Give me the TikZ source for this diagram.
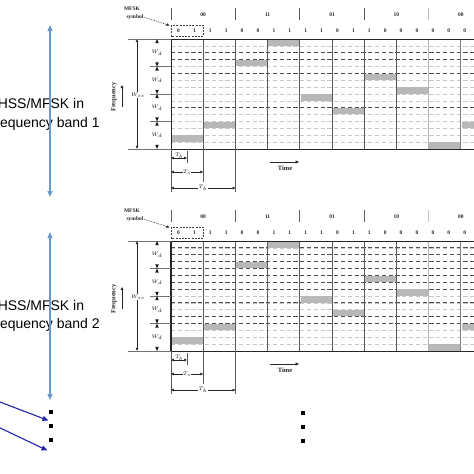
\documentclass[tikz,border=0pt]{standalone}
\usepackage{fontspec}
\setmainfont{Liberation Serif}
\newfontfamily\arialfont{Liberation Sans}
\usetikzlibrary{arrows.meta}
\definecolor{bandblue}{HTML}{6A9AC8}
\definecolor{navyarrow}{HTML}{2424AA}
\definecolor{barfill}{HTML}{B8B8B8}
\definecolor{lightdash}{HTML}{C8C8C8}
\definecolor{darkdash}{HTML}{505050}
\definecolor{gridline}{HTML}{5A5A5A}
\tikzset{
  lbl/.style={font=\fontsize{5.5}{6}\selectfont\bfseries, inner sep=0.3pt, text=black!85},
  midlbl/.style={font=\fontsize{6.5}{7}\selectfont\bfseries, inner sep=0.3pt, text=black!85},
  itl/.style={font=\fontsize{5.5}{6}\selectfont, inner sep=0.3pt, fill=white},
  lightrow/.style={draw=lightdash, line width=0.7pt, dash pattern=on 4.2pt off 2.6pt},
  darkrow/.style={draw=darkdash, line width=0.8pt, dash pattern=on 4.2pt off 2.6pt},
  coltick/.style={draw=gridline, line width=0.8pt},
  thintick/.style={draw=black!55, line width=0.5pt},
  dimline/.style={draw=black!85, line width=0.45pt, {Triangle[length=2.8pt,width=2.6pt]}-{Triangle[length=2.8pt,width=2.6pt]}},
  bigtext/.style={font=\arialfont\fontsize{14}{17}\selectfont, inner sep=0pt, anchor=base west},
  bandarrow/.style={draw=bandblue, line width=1.1pt, {Triangle[length=6pt,width=5pt]}-{Triangle[length=6pt,width=5pt]}},
  feedarrow/.style={draw=navyarrow, line width=1.1pt, -{Triangle[length=6pt,width=5pt]}},
  dotsq/.style={fill=black, minimum size=4pt, inner sep=0pt, draw=none, rectangle},
}

\newcommand\fhchart[4]{%
\begin{scope}[shift={(0,#1)}]
  % rows
  \foreach \k in {1,...,15} \draw[lightrow] (171,{39+\k*6.875}) -- (492,{39+\k*6.875});
  \foreach \k in {#2} \draw[darkrow] (171,{39+\k*6.875}) -- (492,{39+\k*6.875});
  % tones
  \foreach \cc/\rr in {0/14,1/12,2/3,3/0,4/8,5/10,6/5,7/7,8/15,9/12}
    \fill[barfill] ({171.8+\cc*32.2},{39.2+\rr*6.875}) rectangle ({170.6+(\cc+1)*32.2},{38.8+(\rr+1)*6.875});
  % columns
  \foreach \cc in {1,...,7} \draw[coltick] ({171+\cc*32.2},39) -- ({171+\cc*32.2},149);
  \draw[draw=black!30, line width=0.8pt] (428.6,39) -- (428.6,149);
  \draw[draw=black!50, line width=0.8pt] (460.8,39) -- (460.8,149);
  \draw[draw=black!85, line width=0.9pt] (492,39) -- (171,39) (171,149) -- (492,149);
  \draw[draw=black!85, line width=#3] (171,39) -- (171,149);
  % top labels
  \foreach \x/\t [count=\i] in {203.2/00,267.6/11,332/01,396.4/10,460.8/00}
    \node[lbl] (#4dibit\i) at (\x,15) {\t};
  \foreach \x in {171,235.4,299.8,364.2} \draw[coltick, line width=0.7pt] (\x,8) -- (\x,20);
  \draw[draw=black!25, line width=0.7pt] (428.6,8) -- (428.6,20);
  \foreach \b [count=\i from 0] in {0,1,1,1,0,0,1,1,1,1,0,1,1,0,0,0,0,0,0}
    \node[lbl] (#4bit\i) at ({178.5+\i*15.9},31) {\b};
  \draw[draw=black!75, line width=0.6pt, dash pattern=on 2pt off 1.2pt] (171,25) rectangle (203.2,36.5);
  \node[lbl] (#4mfsk) at (132,9) {MFSK};
  \node[lbl] (#4sym) at (135,17) {symbol};
  \coordinate (#4boxc) at (169.5,25.5);
  \draw[draw=black!80, line width=0.5pt, dash pattern=on 1.5pt off 1pt, -{Triangle[length=3pt,width=2.6pt]}] (#4sym.east) -- (#4boxc);
  % left dimensions
  \draw[thintick] (128,39) -- (171,39) (128,149) -- (171,149);
  \coordinate (#4wt) at (137,39.3);
  \coordinate (#4wb) at (137,148.7);
  \draw[dimline] (#4wt) -- (#4wb);
  \node[itl] (#4wss) at (138,95) {$W_{ss}$};
  \node[midlbl, rotate=90] (#4freq) at (114,97) {Frequency};
  \coordinate (#4fa) at (122,107);
  \coordinate (#4fb) at (122,85);
  \draw[black!85, line width=0.6pt, -{Triangle[length=3pt,width=2.8pt]}] (#4fa) -- (#4fb);
  \foreach \yy in {66.5,94,121.5} \draw[thintick] (150,\yy) -- (171,\yy);
  \foreach \bb in {0,...,3} {
    \pgfmathsetmacro\ya{39+\bb*27.5}
    \pgfmathsetmacro\yb{66.5+\bb*27.5}
    \fill[black!90] (157,\ya) -- (155.2,\ya+4.2) -- (158.8,\ya+4.2) -- cycle;
    \fill[black!90] (157,\yb) -- (155.2,\yb-4.2) -- (158.8,\yb-4.2) -- cycle;
    \node[itl] (#4wd\bb) at (157,{\ya+13.75}) {$W_d$};
  }
  % bottom time marks
  \draw[coltick, line width=0.6pt] (171,149) -- (171,192);
  \draw[coltick, line width=0.6pt] (203.2,149) -- (203.2,182);
  \draw[coltick, line width=0.6pt] (235.4,149) -- (235.4,192);
  \draw[coltick, line width=0.6pt] (187,151) -- (187,163);
  \coordinate (#4tba) at (171,158); \coordinate (#4tbb) at (187,158);
  \draw[dimline] (#4tba) -- (#4tbb);
  \node[itl, fill=none] (#4tb) at (179,155.5) {$T_b$};
  \coordinate (#4tsa) at (171,172); \coordinate (#4tsb) at (203.2,172);
  \draw[dimline] (#4tsa) -- (#4tsb);
  \node[itl] (#4ts) at (187,172) {$T_s$};
  \coordinate (#4tha) at (171,188); \coordinate (#4thb) at (235.4,188);
  \draw[dimline] (#4tha) -- (#4thb);
  \node[itl] (#4th) at (203,188) {$T_h$};
  \coordinate (#4ta) at (270,162); \coordinate (#4tz) at (299,162);
  \draw[black!85, line width=0.7pt, -{Triangle[length=3.5pt,width=3pt]}] (#4ta) -- (#4tz);
  \node[midlbl] (#4time) at (285,168) {Time};
\end{scope}}

\begin{document}
\begin{tikzpicture}[x=1pt,y=-1pt]
\useasboundingbox (0,0) rectangle (474,474);
\clip (0,0) rectangle (474,474);
\fill[white] (0,0) rectangle (474,474);

\fhchart{0}{2,3,5,10}{0.9pt}{a}
\fhchart{202}{1,2,3,4,5,6,7,9,11,12}{1.8pt}{b}

% band labels
\node[bigtext] (t1a) at (-11,108) {FHSS/MFSK in};
\node[bigtext] (t1b) at (-8.7,127) {frequency band 1};
\node[bigtext] (t2a) at (-11,310) {FHSS/MFSK in};
\node[bigtext] (t2b) at (-8.7,328) {frequency band 2};

% blue band arrows
\coordinate (b1top) at (50,25);
\coordinate (b1bot) at (50,197);
\draw[bandarrow] (b1top) -- (b1bot);
\coordinate (b2top) at (50,232);
\coordinate (b2bot) at (50,400);
\draw[bandarrow] (b2top) -- (b2bot);

% incoming arrows
\coordinate (f1s) at (-4,400.5);
\coordinate (f1e) at (48.5,420.5);
\draw[feedarrow] (f1s) -- (f1e);
\coordinate (f2s) at (-4,426);
\coordinate (f2e) at (47.5,450.5);
\draw[feedarrow] (f2s) -- (f2e);

% dots
\node[dotsq] (l1) at (50.6,412) {};
\node[dotsq] (l2) at (50.6,426) {};
\node[dotsq] (l3) at (50.6,440) {};
\node[dotsq] (m1) at (302.7,412.7) {};
\node[dotsq] (m2) at (302.7,427) {};
\node[dotsq] (m3) at (302.7,441) {};
\end{tikzpicture}
\end{document}
